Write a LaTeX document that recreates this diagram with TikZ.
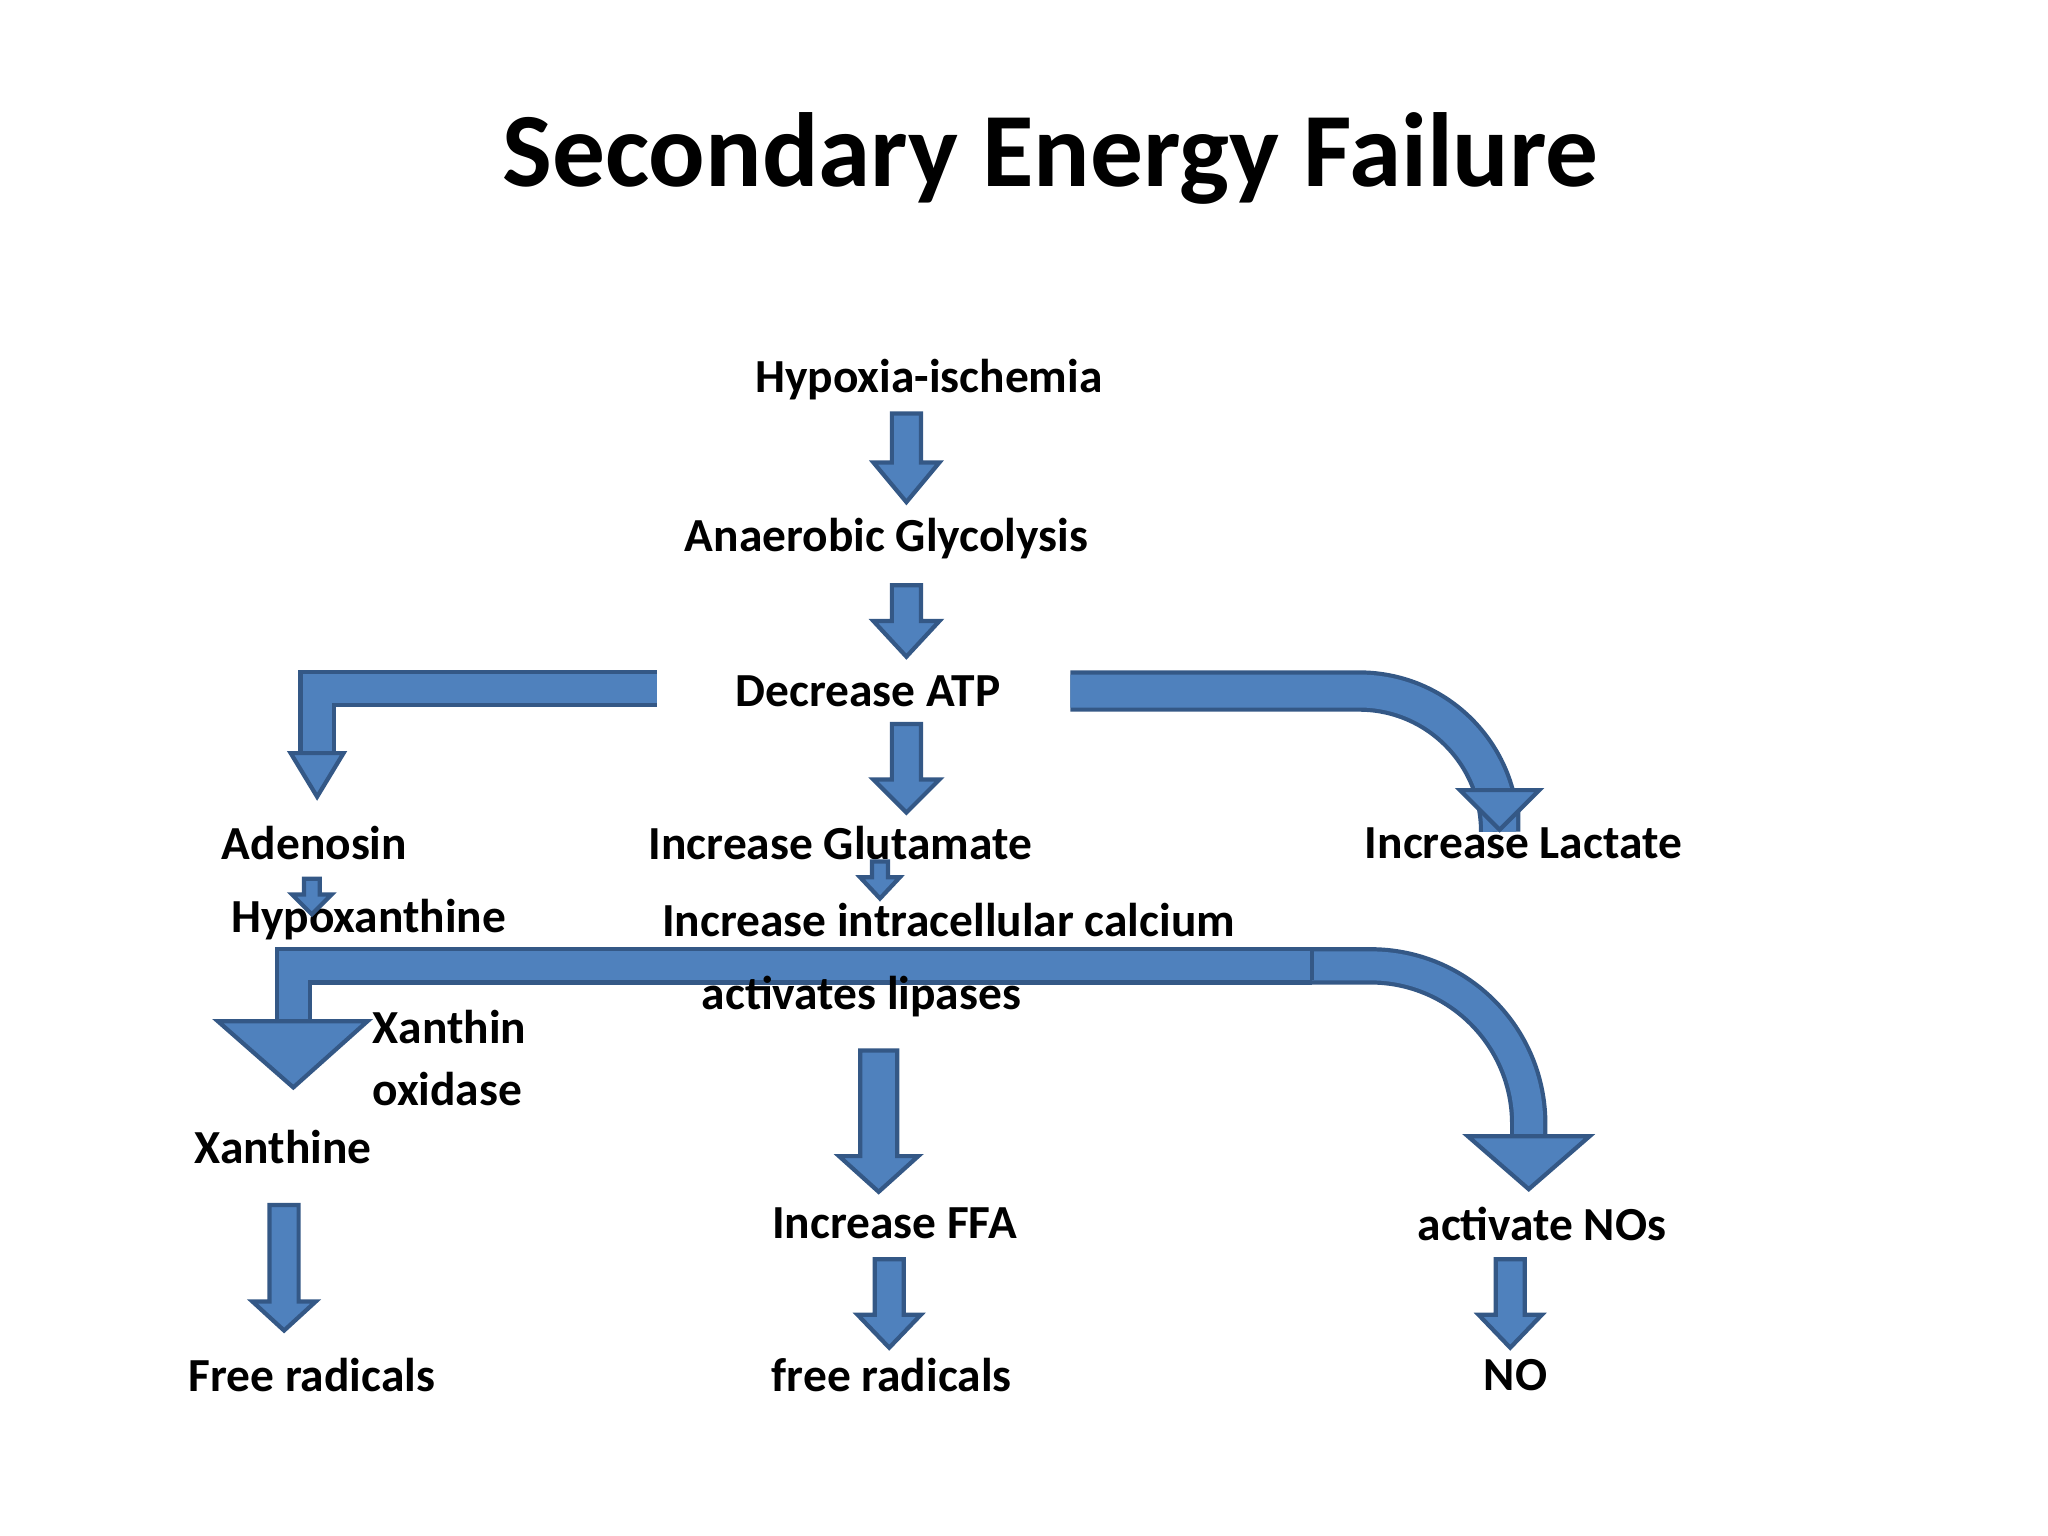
\documentclass[tikz,border=0pt]{standalone}
\usepackage{fontspec}
\setmainfont{Carlito}
\definecolor{blueA}{RGB}{79,129,189}
\definecolor{blueB}{RGB}{52,88,134}
\tikzset{
  lbl/.style={font=\fontsize{13.5}{16}\selectfont\bfseries, inner sep=0pt},
  head/.style={fill=blueA, draw=blueB, line width=1.2pt, line join=miter},
}
% straight block arrow: x, top, head base, tip, shaft half, head half
\newcommand\dnarrow[6]{%
  \filldraw[head] (#1-#5,#2) -- (#1+#5,#2) -- (#1+#5,#3) -- (#1+#6,#3) -- (#1,#4)
    -- (#1-#6,#3) -- (#1-#5,#3) -- cycle;}
% bent block arrow shaft
\newcommand\bentshaft[2]{%
  \draw[blueB, line width=#1*0.375pt+2.4pt] #2;
  \draw[blueA, line width=#1*0.375pt] #2;}
\begin{document}
\begin{tikzpicture}[x=0.01321cm,y=-0.01321cm]
\useasboundingbox (0,0) rectangle (1550,1162);

\node[font=\fontsize{30}{36}\selectfont\bfseries] (title) at (795,120) {Secondary Energy Failure};

\node[lbl] (hyp) at (703,287) {Hypoxia-ischemia};
\node[lbl] (glyc) at (671,408) {Anaerobic Glycolysis};
\node[lbl] (atp) at (657,523) {Decrease ATP};
\node[lbl] (ado) at (238,638) {Adenosin};
\node[lbl] (glu) at (636,638) {Increase Glutamate};
\node[lbl] (lac) at (1153,638) {Increase Lactate};
\node[lbl] (hypx) at (279,696) {Hypoxanthine};
\node[lbl] (calc) at (718,696) {Increase intracellular calcium};
\node[lbl] (xox1) at (340,777) {Xanthin};
\node[lbl, anchor=west] (xox2) at (xox1.west |- 0,824) {oxidase};
\node[lbl] (xan) at (214,868) {Xanthine};
\node[lbl] (ffa) at (677,926) {Increase FFA};
\node[lbl] (nos) at (1167,926) {activate NOs};
\node[lbl] (frl) at (236,1041) {Free radicals};
\node[lbl] (frm) at (675,1041) {free radicals};
\node[lbl] (no) at (1147,1041) {NO};

% long bent arrow (drawn before its label)
\bentshaft{22}{(993,731) -- (222,731) -- (222,775)}
\bentshaft{22}{[rounded corners=45pt] (993,731) -- (1157,731) -- (1157,862)}
\node[lbl] (lip) at (652,754) {activates lipases};
\filldraw[head] (165,773) -- (278,773) -- (222,823) -- cycle;
\filldraw[head] (1111,860) -- (1203,860) -- (1157,900) -- cycle;
\draw[blueB, line width=1.2pt] (993,720) -- (993,742);

% bent arrows from Decrease ATP
\bentshaft{22}{(497,521) -- (240,521) -- (240,572)}
\filldraw[head] (220,570) -- (260,570) -- (240,603) -- cycle;
\bentshaft{25}{[rounded corners=40pt] (810,523) -- (1135,523) -- (1135,600)}
\filldraw[head] (1105,598) -- (1165,598) -- (1135,628) -- cycle;

% straight arrows
\dnarrow{686}{313}{350}{380}{11}{25}
\dnarrow{686}{443}{470}{497}{11}{25}
\dnarrow{686}{548}{590}{615}{11}{25}
\dnarrow{666}{652}{664}{680}{6}{15}
\dnarrow{236}{665}{677}{692}{6}{15}
\dnarrow{665}{795}{875}{902}{14}{30}
\dnarrow{215}{912}{985}{1007}{11}{24}
\dnarrow{673}{953}{995}{1020}{11}{24}
\dnarrow{1143}{953}{995}{1020}{11}{24}
\end{tikzpicture}
\end{document}
